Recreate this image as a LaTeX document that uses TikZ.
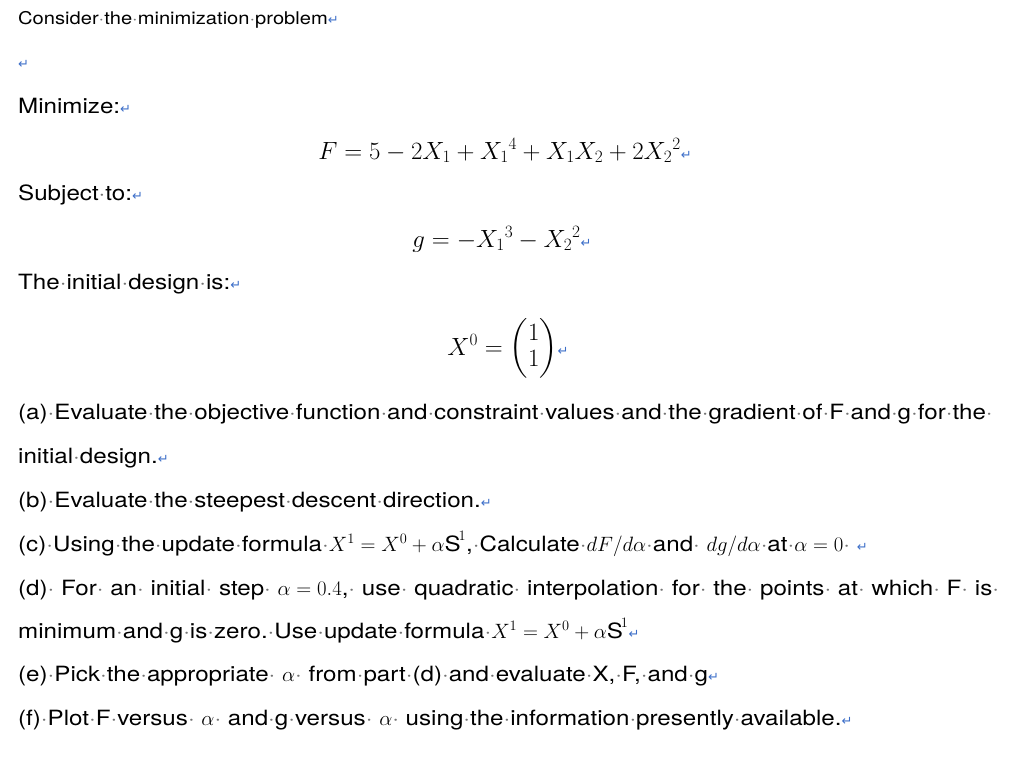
\documentclass[tikz,border=0pt]{standalone}
\usepackage{fontspec}
\usepackage{amsmath}
\setmainfont{TeX Gyre Heros}[FakeStretch=1.15]
\newfontfamily\djvfont{DejaVu Sans}
\definecolor{ret}{RGB}{60,110,200}
\newcommand\rt{{\djvfont\color{ret}\fontsize{13}{13}\selectfont ↵}}
\newcommand\dt{{\color{black!55}·}}
\begin{document}
\begin{tikzpicture}[x=1pt,y=-1pt,
  txt/.style={anchor=base west,inner sep=0pt,font=\fontsize{21}{24}\selectfont},
  eq/.style={anchor=base,inner sep=0pt,font=\fontsize{23.5}{26}\selectfont}]
\useasboundingbox (0,0) rectangle (1024,756);
\node[txt,font=\fontsize{17.5}{20}\selectfont] (t1) at (18,24) {Consider\dt the\dt minimization\dt problem\rt};
\node[txt] (t2) at (18,68) {\rt};
\node[txt] (t3) at (18,113) {Minimize:\rt};
\node[eq] (e1) at (505,159) {$F=5-2X_1+X_1{}^4+X_1X_2+2X_2{}^2$\rt};
\node[txt] (t4) at (18,200) {Subject\dt to:\rt};
\node[eq] (e2) at (502,247) {$g=-X_1{}^3-X_2{}^2$\rt};
\node[txt] (t5) at (18,289) {The\dt initial\dt design\dt is:\rt};
\node[eq] (e3) at (508,355) {$X^0=\begin{pmatrix}1\\1\end{pmatrix}$\rt};
\node[txt] (a1) at (18,419) {(a)\dt Evaluate\dt the\dt objective\dt function\dt and\dt constraint\dt values\dt and\dt the\dt gradient\dt of\dt F\dt and\dt g\dt for\dt the\dt};
\node[txt] (a2) at (18,463) {initial\dt design.\rt};
\node[txt] (b1) at (18,507) {(b)\dt Evaluate\dt the\dt steepest\dt descent\dt direction.\rt};
\node[txt] (c1) at (18,551) {(c)\dt Using\dt the\dt update\dt formula\dt $X^1=X^0+\mathrm{\alpha S}^1$,\dt Calculate\dt $dF/d\alpha$\dt and\dt\ $dg/d\alpha$\dt at\dt $\alpha=0$\dt\ \rt};
\node[txt] (d1) at (18,595) {(d)\dt\ For\dt\ an\dt\ initial\dt\ step\dt\ $\alpha=0.4$,\dt\ use\dt\ quadratic\dt\ interpolation\dt\ for\dt\ the\dt\ points\dt\ at\dt\ which\dt\ F\dt\ is\dt};
\node[txt] (d2) at (18,638) {minimum\dt and\dt g\dt is\dt zero.\dt Use\dt update\dt formula\dt $X^1=X^0+\mathrm{\alpha S}^1$\rt};
\node[txt] (e4) at (18,681) {(e)\dt Pick\dt the\dt appropriate\dt\ $\alpha$\dt\ from\dt part\dt (d)\dt and\dt evaluate\dt X,\dt F,\dt and\dt g\rt};
\node[txt] (f1) at (18,725) {(f)\dt Plot\dt F\dt versus\dt\ $\alpha$\dt\ and\dt g\dt versus\dt\ $\alpha$\dt\ using\dt the\dt information\dt presently\dt available.\rt};
\end{tikzpicture}
\end{document}
